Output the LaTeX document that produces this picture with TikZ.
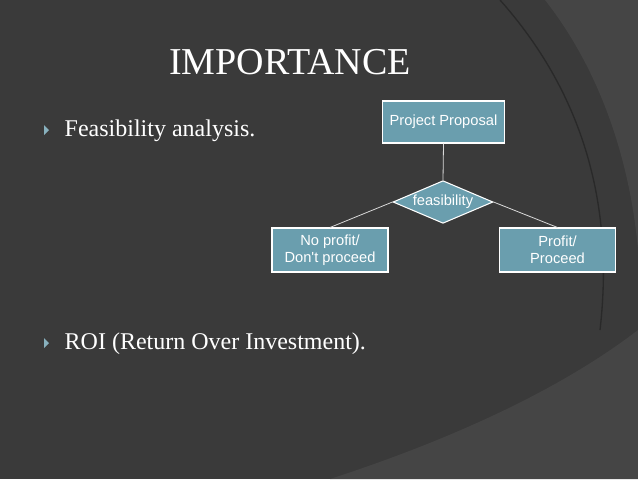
\documentclass[tikz,border=0pt]{standalone}
\usepackage{fontspec}
\setmainfont{Liberation Serif}
\newfontfamily\arialf{Liberation Sans}
\usetikzlibrary{shapes.geometric}
\definecolor{bg}{HTML}{3A3A3A}
\definecolor{bgl}{HTML}{454545}
\definecolor{boxc}{HTML}{6A9EAE}
\begin{document}
\begin{tikzpicture}[x=0.75pt,y=-0.75pt,
  box/.style={draw=white,line width=0.8pt,fill=boxc,text=white,font=\arialf\fontsize{11}{13}\selectfont,align=center,inner sep=0pt},
  conn/.style={draw=white!85!black,line width=0.6pt},
  bul/.style={fill=boxc!80!white}]
\useasboundingbox (0,0) rectangle (638,479);
\fill[bg] (0,0) rectangle (638,479);
\fill[bgl] (545,0) .. controls (600,70) and (630,160) .. (638,250) -- (638,0) -- cycle;
\fill[bgl] (330,479) .. controls (450,440) and (560,390) .. (638,330) -- (638,479) -- cycle;
\draw[black!30!bg,line width=1pt] (500,0) .. controls (580,90) and (615,200) .. (600,330);
\node[text=white,font=\fontsize{28.5}{32}\selectfont] (title) at (290,62) {IMPORTANCE};
\fill[bul] (44,125) -- (49,130) -- (44,135) -- cycle;
\node[text=white,anchor=west,font=\fontsize{18}{21}\selectfont] (b1) at (60,131) {Feasibility analysis.};
\fill[bul] (44,338) -- (49,343) -- (44,348) -- cycle;
\node[text=white,anchor=west,font=\fontsize{18}{21}\selectfont] (b2) at (60,344) {ROI (Return Over Investment).};
\node[box,minimum width=92pt,minimum height=31.5pt] (pp) at (443.5,122) {Project Proposal};
\node[box,diamond,aspect=2.3,minimum width=75pt,minimum height=32pt,inner sep=0pt] (fe) at (443,202) {feasibility};
\node[box,minimum width=87pt,minimum height=33pt] (np) at (330,250) {No profit/\\Don't proceed};
\node[box,minimum width=87pt,minimum height=33pt] (pr) at (557.5,250) {Profit/\\Proceed};
\draw[conn] (pp.south) -- (fe.north);
\draw[conn] (fe.west) -- (np.north);
\draw[conn] (fe.east) -- (pr.north);
\end{tikzpicture}
\end{document}
